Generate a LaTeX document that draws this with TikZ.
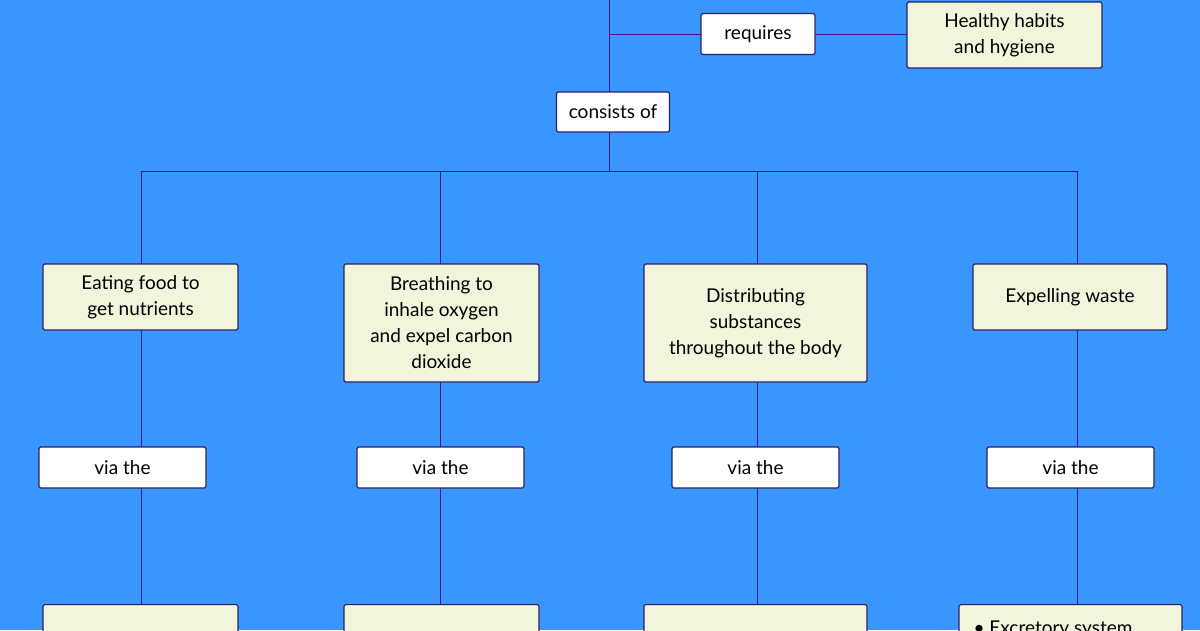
\documentclass[tikz,border=0pt]{standalone}
\usepackage{fontspec}
\setmainfont{Lato}
\begin{document}
\begin{tikzpicture}[x=1pt,y=-1pt,
 ln/.style={draw=lc,line width=1pt},
 bx/.style={draw=bc,line width=1.1pt,fill=cream,rounded corners=1.5pt,align=center,font=\fontsize{19}{26}\selectfont,inner sep=0pt},
 lb/.style={draw=bc,line width=1.1pt,fill=white,rounded corners=1.5pt,font=\fontsize{19}{26}\selectfont,inner sep=0pt}]
\definecolor{bg}{HTML}{3A96FF}\definecolor{lc}{HTML}{3B1C7E}\definecolor{bc}{HTML}{2A1F6A}\definecolor{cream}{HTML}{F2F4DC}
\fill[bg] (0,0) rectangle (1200,630);
\useasboundingbox (0,0) rectangle (1200,630);
\coordinate (top) at (609,0);
\coordinate (j1) at (609,34);
\coordinate (j2) at (609,171);
\coordinate (hl) at (141,171);\coordinate (hr) at (1077,171);
% lines
\draw[ln] (top) -- (j2);
\draw[ln] (j1) -- (907,34);
\draw[ln] (hl) -- (hr);
\foreach \x in {141,440,757,1077}{\draw[ln] (\x,171) -- (\x,605);}
% nodes
\node[lb,minimum width=114,minimum height=41] (req) at (758,34) {requires};
\node[bx,minimum width=195,minimum height=66] (hh) at (1004.5,35) {Healthy habits\\and hygiene};
\node[lb,minimum width=113,minimum height=40] (con) at (613,112) {consists of};
\node[bx,minimum width=195,minimum height=66] (a) at (140.5,297) {Eating food to\\get nutrients};
\node[bx,minimum width=195,minimum height=118] (b) at (441.5,323) {Breathing to\\inhale oxygen\\and expel carbon\\dioxide};
\node[bx,minimum width=223,minimum height=118] (c) at (755.5,323) {Distributing\\substances\\throughout the body};
\node[bx,minimum width=194,minimum height=66] (d) at (1070,297) {Expelling waste};
\foreach \n/\x in {va/122.5,vb/440.5,vc/755.5,vd/1070.5}{
 \node[lb,minimum width=167,minimum height=41] (\n) at (\x,467.5) {via the};}
\node[bx,minimum width=195,minimum height=60,anchor=north] (a2) at (140.5,604) {};
\node[bx,minimum width=195,minimum height=60,anchor=north] (b2) at (441.5,604) {};
\node[bx,minimum width=223,minimum height=60,anchor=north] (c2) at (755.5,604) {};
\node[bx,minimum width=223,minimum height=60,anchor=north] (d2) at (1070.5,604) {};
\node[font=\fontsize{19}{26}\selectfont,anchor=base west] (dt) at (970,634) {\textbullet\ Excretory system};
\end{tikzpicture}
\end{document}
